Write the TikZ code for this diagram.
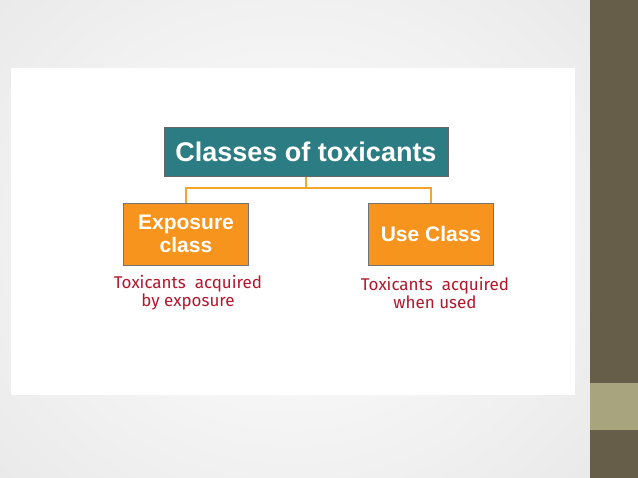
\documentclass[tikz,border=0pt]{standalone}
\usepackage{xcolor}
\usepackage{fontspec}
\setmainfont{Liberation Sans}
\newfontfamily\handfont{Fira Sans}
\usepackage{tikz}

\definecolor{olivebar}{HTML}{665E48}
\definecolor{olivelight}{HTML}{A8A47E}
\definecolor{tealbox}{HTML}{2C7C83}
\definecolor{orangebox}{HTML}{F7941D}
\definecolor{linkcol}{HTML}{F5A52A}
\definecolor{notered}{HTML}{B3172B}

\begin{document}
\begin{tikzpicture}[x=1pt,y=-1pt,
    classbox/.style={draw=black!55, line width=0.8pt, fill=orangebox, minimum width=125pt,
      minimum height=62pt, align=center, text=white, font=\fontsize{21}{23}\selectfont\bfseries},
    note/.style={text=notered, align=center, font=\handfont\fontsize{17}{18}\selectfont}]
    % background
    \useasboundingbox (0,0) rectangle (638,478);
    \shade[inner color=white, outer color=black!9] (-140,-140) rectangle (720,620);
    \fill[white] (11,68) rectangle (575,395);
    \fill[olivebar] (590,0) rectangle (638,478);
    \fill[olivelight] (590,383) rectangle (638,430);
    % boxes
    \node[draw=black!60, line width=0.8pt, fill=tealbox, minimum width=284pt, minimum height=49pt,
      text=white, font=\fontsize{27}{28}\selectfont\bfseries] (top) at (306,152)
      {Classes of toxicants};
    \node[classbox] (expo) at (186,234) {Exposure\\class};
    \node[classbox] (use) at (431,234) {Use Class};
    % links
    \coordinate (mid) at (306,188);
    \draw[linkcol, line width=1.6pt] (top.south) -- (mid) -| (expo.north);
    \draw[linkcol, line width=1.6pt] (mid) -| (use.north);
    % notes
    \node[note] (expotxt) at (188,293) {Toxicants\ \ acquired\\by exposure};
    \node[note] (usetxt) at (435,293) {Toxicants\ \ acquired\\when used};
\end{tikzpicture}
\end{document}
